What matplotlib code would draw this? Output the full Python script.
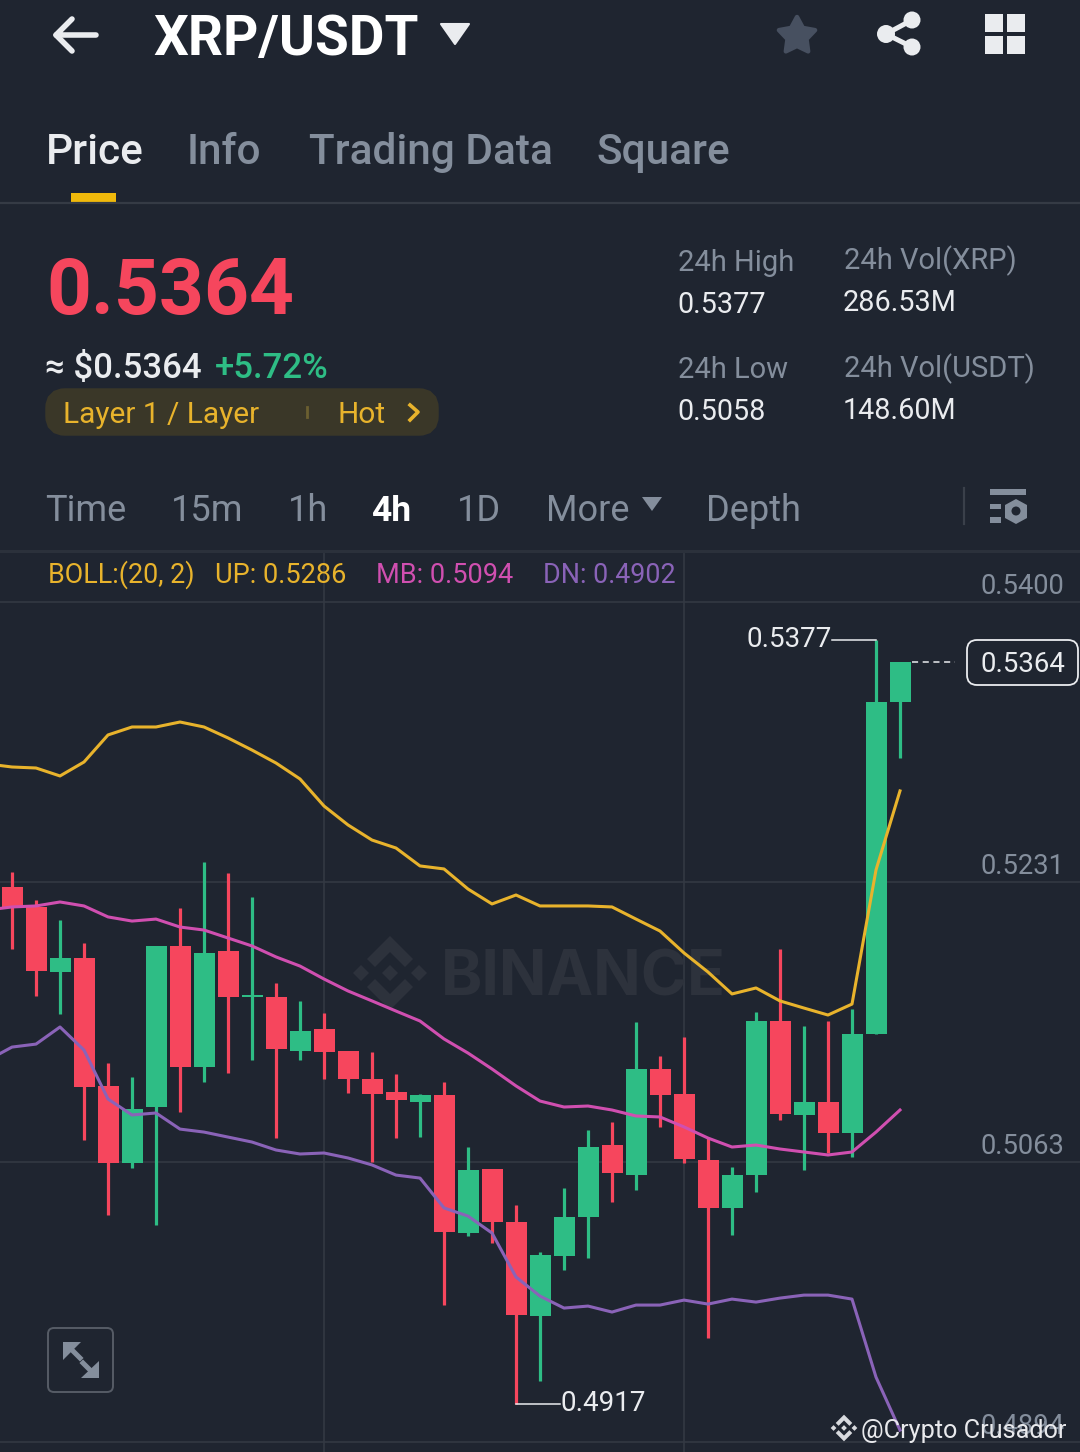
import numpy as np
import matplotlib
matplotlib.use('Agg')
import matplotlib.pyplot as plt
from matplotlib.patches import Polygon, Rectangle, FancyBboxPatch, Circle

plt.rcParams['font.family'] = ['Roboto', 'DejaVu Sans']

# candles, 4h
opens = [0.52283, 0.52163, 0.51771, 0.51855, 0.51085, 0.50621, 0.50958, 0.51928, 0.51199, 0.51898,
         0.51621, 0.51621, 0.51295, 0.51428, 0.51295, 0.51127, 0.51048, 0.50988, 0.51030, 0.50199,
         0.50585, 0.50265, 0.49699, 0.50060, 0.50295, 0.50729, 0.50548, 0.51187, 0.51036, 0.50639,
         0.50350, 0.50548, 0.51476, 0.50910, 0.50988, 0.50801, 0.51398, 0.53398]
closes = [0.52157, 0.51777, 0.51855, 0.51078, 0.50621, 0.50946, 0.51928, 0.51199, 0.51886, 0.51621,
          0.51633, 0.51307, 0.51416, 0.51289, 0.51127, 0.51036, 0.51000, 0.51030, 0.50205, 0.50579,
          0.50265, 0.49705, 0.50066, 0.50295, 0.50717, 0.50560, 0.51187, 0.51030, 0.50645, 0.50350,
          0.50548, 0.51476, 0.50916, 0.50988, 0.50801, 0.51398, 0.53398, 0.53639]
highs = [0.52374, 0.52205, 0.52084, 0.51946, 0.51223, 0.51139, 0.51928, 0.52157, 0.52434, 0.52368,
         0.52223, 0.51705, 0.51597, 0.51524, 0.51295, 0.51289, 0.51157, 0.51036, 0.51109, 0.50717,
         0.50585, 0.50368, 0.50085, 0.50470, 0.50819, 0.50868, 0.51470, 0.51265, 0.51380, 0.50771,
         0.50597, 0.51530, 0.51910, 0.51446, 0.51476, 0.51548, 0.53771, 0.53639]
lows = [0.51910, 0.51627, 0.51518, 0.50759, 0.50307, 0.50591, 0.50247, 0.50928, 0.51109, 0.51163,
        0.51241, 0.50771, 0.51241, 0.51127, 0.51042, 0.50627, 0.50771, 0.50777, 0.49765, 0.50181,
        0.50139, 0.49169, 0.49307, 0.49976, 0.50048, 0.50386, 0.50458, 0.50838, 0.50621, 0.49567,
        0.50187, 0.50446, 0.50880, 0.50579, 0.50681, 0.50657, 0.51398, 0.53060]

# bollinger bands, first point sits one candle before the screen edge
boll_up = [0.53024, 0.53006, 0.53000, 0.52952, 0.53036, 0.53199, 0.53247, 0.53247, 0.53277, 0.53247,
           0.53181, 0.53108, 0.53030, 0.52934, 0.52771, 0.52657, 0.52566, 0.52518, 0.52410, 0.52392,
           0.52271, 0.52181, 0.52235, 0.52169, 0.52169, 0.52169, 0.52163, 0.52090, 0.52018, 0.51886,
           0.51771, 0.51639, 0.51675, 0.51597, 0.51554, 0.51512, 0.51578, 0.52386, 0.52862]
boll_mb = [0.52145, 0.52163, 0.52169, 0.52193, 0.52169, 0.52103, 0.52078, 0.52090, 0.52042, 0.52024,
           0.51976, 0.51928, 0.51862, 0.51807, 0.51729, 0.51657, 0.51597, 0.51536, 0.51476, 0.51368,
           0.51283, 0.51187, 0.51085, 0.50994, 0.50958, 0.50964, 0.50940, 0.50904, 0.50898, 0.50838,
           0.50771, 0.50717, 0.50729, 0.50705, 0.50687, 0.50669, 0.50687, 0.50807, 0.50940]
boll_dn = [0.51241, 0.51319, 0.51337, 0.51440, 0.51301, 0.51006, 0.50910, 0.50922, 0.50825, 0.50807,
           0.50777, 0.50747, 0.50699, 0.50675, 0.50681, 0.50651, 0.50609, 0.50548, 0.50530, 0.50350,
           0.50301, 0.50199, 0.49934, 0.49819, 0.49747, 0.49759, 0.49723, 0.49765, 0.49765, 0.49795,
           0.49771, 0.49801, 0.49783, 0.49807, 0.49825, 0.49825, 0.49801, 0.49331, 0.49012]

# the labels are rounded, the gridlines are evenly spaced
price_ticks = [0.5400, 0.52313, 0.50627, 0.4894]
price_labels = ['0.5400', '0.5231', '0.5063', '0.4894']
time_grid = [13, 28]

tabs = ['Price', 'Info', 'Trading Data', 'Square']
intervals = ['Time', '15m', '1h', '4h', '1D', 'More', 'Depth']

BG = '#1f2530'
GRID = '#343a44'
RED = '#f6465d'
GREEN = '#2ebd85'
GREY = '#848e9c'
WHITE = '#eaecef'
YELLOW = '#e8b32c'
PINK = '#d04fb0'
PURPLE = '#8a63b8'

fig = plt.figure(figsize=(10.8, 14.52), dpi=100, facecolor=BG)

# whole screen layer in pixels for the app chrome
ui = fig.add_axes([0, 0, 1, 1], zorder=3)
ui.set_xlim(0, 1080)
ui.set_ylim(1452, 0)
ui.axis('off')
ui.patch.set_alpha(0)


def label(x, y, s, size, color=GREY, **kw):
    ui.text(x, y, s, fontsize=size, color=color, va='baseline', **kw)


def logo(target, cx, cy, k, color, z=1):
    # binance mark: three small diamonds and two chevrons
    for dx in (-29, 0, 29):
        target.add_patch(Polygon([(cx + (dx - 8) * k, cy), (cx + dx * k, cy - 8 * k),
                                  (cx + (dx + 8) * k, cy), (cx + dx * k, cy + 8 * k)],
                                 fc=color, ec='none', zorder=z))
    for s in (-1, 1):
        pts = [(0, 37), (23, 14), (15, 6), (0, 21), (-15, 6), (-23, 14)]
        target.add_patch(Polygon([(cx + a * k, cy + s * b * k) for a, b in pts],
                                 fc=color, ec='none', zorder=z))


# header
ui.plot([96, 56, 72], [35, 35, 19], color=WHITE, lw=4, solid_capstyle='round', solid_joinstyle='round')
ui.plot([56, 72], [35, 51], color=WHITE, lw=4, solid_capstyle='round')
label(153, 55, 'XRP/USDT', 39.5, 'white', fontweight='bold')
ui.add_patch(Polygon([(441, 24), (469, 24), (455, 44)], fc=WHITE, ec=WHITE, lw=1.5, joinstyle='round'))
star_r = [19, 10] * 5
star_a = np.radians(-90 + 36 * np.arange(10))
ui.add_patch(Polygon(np.column_stack([797 + np.array(star_r) * np.cos(star_a),
                                      36 + np.array(star_r) * np.sin(star_a)]),
                     fc='#475060', ec='#475060', lw=3.2, joinstyle='round'))
ui.plot([912, 886, 912], [20, 34, 47], color=WHITE, lw=3.6)
for cx, cy, r in [(912, 20, 8.5), (886, 34, 9), (912, 47, 8.5)]:
    ui.add_patch(Circle((cx, cy), r, fc=WHITE, ec='none'))
for x0, y0 in [(985, 14), (1007, 14), (985, 36), (1007, 36)]:
    ui.add_patch(Rectangle((x0, y0), 18, 18, fc=WHITE, ec='none'))

# tabs
tab_x = [46, 187, 309, 597]
for i, t in enumerate(tabs):
    label(tab_x[i], 164, t, 30.5, WHITE if i == 0 else GREY, fontweight='medium')
ui.add_patch(Rectangle((71, 193), 45, 9, fc='#f0b90b', ec='none'))
ui.plot([0, 1080], [203, 203], color='#353b45', lw=1.6)

# price block
label(46, 314, '0.5364', 56.5, RED, fontweight='bold')
label(45, 378, '≈ $0.5364', 25, WHITE, fontweight='medium')
label(215, 378, '+5.72%', 25, GREEN, fontweight='medium')
ui.add_patch(FancyBboxPatch((55, 398), 374, 28, boxstyle='round,pad=0,rounding_size=10',
                            mutation_aspect=1, fc='#3a3728', ec='#3a3728', lw=14))
label(63, 423, 'Layer 1 / Layer', 21.5, YELLOW)
ui.plot([307, 307], [407, 417], color='#6b5f30', lw=2)
label(337, 423, 'Hot', 21.5, YELLOW)
ui.plot([410, 418, 410], [405, 412, 420], color=YELLOW, lw=2.6)

label(678, 271, '24h High', 21, GREY)
label(677, 313, '0.5377', 20.7, WHITE)
label(844, 269, '24h Vol(XRP)', 21, GREY)
label(843, 311, '286.53M', 20.7, WHITE)
label(678, 378, '24h Low', 21, GREY)
label(677, 420, '0.5058', 20.7, WHITE)
label(844, 377, '24h Vol(USDT)', 21, GREY)
label(843, 419, '148.60M', 20.7, WHITE)

# interval row
interval_x = [45, 171, 288, 371, 457, 546, 706]
for i, t in enumerate(intervals):
    if t == '4h':
        label(interval_x[i], 521, t, 25.5, 'white', fontweight='bold')
    else:
        label(interval_x[i], 521, t, 26, GREY)
ui.add_patch(Polygon([(642, 497), (662, 497), (652, 511)], fc=GREY, ec='none'))
ui.plot([964, 964], [488, 524], color='#3a404a', lw=1.6)
ui.add_patch(Rectangle((990, 489), 36, 6, fc=GREY, ec='none'))
ui.add_patch(Rectangle((990, 504), 11, 5, fc=GREY, ec='none'))
ui.add_patch(Rectangle((990, 517), 11, 6, fc=GREY, ec='none'))
ui.add_patch(Polygon([(1016, 499), (1027, 505), (1027, 518), (1016, 524), (1005, 518), (1005, 505)],
                     fc=GREY, ec='none'))
ui.add_patch(Circle((1016, 511), 4.5, fc=BG, ec='none'))
ui.plot([0, 1080], [551, 551], color='#2b313b', lw=2.2)

# chart area, y runs over the screen from pixel 552 to 1452
ax = fig.add_axes([0, 0, 1, 900 / 1452], zorder=2)
ax.set_facecolor(BG)
ax.set_xlim(-0.5, 44.5)
ax.set_ylim(0.48880, 0.54301)
ax.set_yticks(price_ticks)
ax.set_xticks(time_grid)
ax.grid(True, color=GRID, lw=1.1)
ax.set_axisbelow(True)
ax.tick_params(length=0, labelleft=False, labelbottom=False)
for sp in ax.spines.values():
    sp.set_visible(False)

# watermark goes under the candles
logo_ax = fig.add_axes([0, 0, 1, 1], zorder=2.5)
logo_ax.set_xlim(0, 1080)
logo_ax.set_ylim(1452, 0)
logo_ax.axis('off')
logo_ax.patch.set_alpha(0)
logo(logo_ax, 390, 973, 1, '#2d323c')
logo_ax.text(441, 995, 'BINANCE', fontsize=45, family='Inter', color='#2d323c', fontweight='bold',
             va='baseline', zorder=1)

idx = np.arange(len(opens))
o = np.array(opens)
c = np.array(closes)
cols = [GREEN if b >= a else RED for a, b in zip(o, c)]
ax2 = fig.add_axes(ax.get_position(), zorder=2.7, sharex=ax, sharey=ax)
ax2.axis('off')
ax2.patch.set_alpha(0)
ax2.vlines(idx, lows, highs, colors=cols, lw=2.3)
ax2.bar(idx, np.maximum(np.abs(c - o), 0.00012), bottom=np.minimum(o, c), width=0.875, color=cols)

band_x = np.arange(-1, len(opens))
ax2.plot(band_x, boll_up, color=YELLOW, lw=2.2)
ax2.plot(band_x, boll_mb, color=PINK, lw=2.2)
ax2.plot(band_x, boll_dn, color=PURPLE, lw=2.2)

# axis prices
for t, s in zip(price_ticks, price_labels):
    ax2.annotate(s, xy=(1, t), xycoords=ax2.get_yaxis_transform(), xytext=(-11, 6),
                 textcoords='offset points', ha='right', va='baseline', fontsize=19.7, color=GREY)

# high / low markers
hi = int(np.argmax(highs))
lo = int(np.argmin(lows))
ax2.plot([hi - 1.85, hi], [highs[hi], highs[hi]], color=WHITE, lw=1.1)
ax2.plot([lo, lo + 1.85], [lows[lo], lows[lo]], color=WHITE, lw=1.1)
ax2.annotate(f'{highs[hi]:.4f}', xy=(hi - 1.85, highs[hi]), xytext=(0, -5), textcoords='offset points',
             ha='right', va='baseline', fontsize=20, color=WHITE)
ax2.annotate(f'{lows[lo]:.4f}', xy=(lo + 1.85, lows[lo]), xytext=(0, -5), textcoords='offset points',
             ha='left', va='baseline', fontsize=20, color=WHITE)

# last price tag
ui.plot([912, 955], [662, 662], color=WHITE, lw=1.1, ls=(0, (4, 3)))
ui.add_patch(FancyBboxPatch((973, 646), 99, 33, boxstyle='round,pad=6,rounding_size=10',
                            fc=BG, ec=WHITE, lw=1.3))
label(981, 672, '0.5364', 19.9, WHITE)

# bollinger legend
label(48, 583, 'BOLL:(20, 2)', 19.4, YELLOW)
label(215, 583, 'UP: 0.5286', 19.5, YELLOW)
label(376, 583, 'MB: 0.5094', 19.5, PINK)
label(543, 583, 'DN: 0.4902', 19.4, PURPLE)

# expand button
ui.add_patch(FancyBboxPatch((52, 1332), 57, 56, boxstyle='round,pad=4,rounding_size=6',
                            fc=BG, ec='#565c66', lw=1.4))
ui.plot([71, 80], [1349, 1358], color=GREY, lw=3.6)
ui.plot([83, 92], [1363, 1372], color=GREY, lw=3.6)
ui.add_patch(Polygon([(63, 1342), (81, 1342), (63, 1360)], fc=GREY, ec='none'))
ui.add_patch(Polygon([(99, 1378), (81, 1378), (99, 1361)], fc=GREY, ec='none'))

# square watermark
logo(ui, 844, 1428, 0.36, '#d8dade', z=5)
label(861, 1438, '@Crypto Crusador', 18.2, '#e8e9ec')

fig.savefig('out.png', dpi=100, facecolor=BG)
